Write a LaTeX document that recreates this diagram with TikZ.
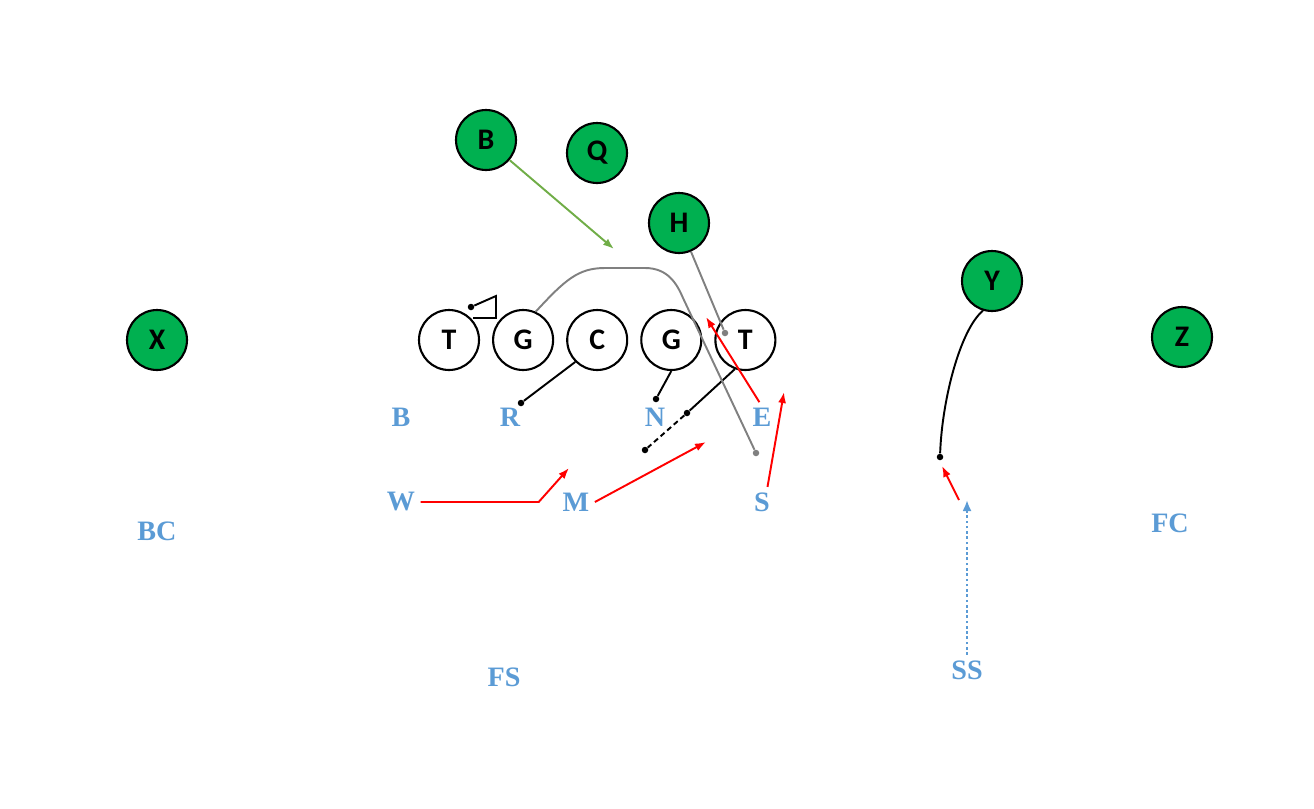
\documentclass[tikz,border=0pt]{standalone}
\usepackage{fontspec}
\setmainfont{Liberation Serif}
\newfontfamily\playerfont{Carlito}
\usepackage{xcolor}
\usetikzlibrary{arrows.meta, positioning}

\definecolor{offgreen}{HTML}{00B050}
\definecolor{routegreen}{HTML}{70AD47}
\definecolor{defblue}{HTML}{5B9BD5}

\begin{document}
\begin{tikzpicture}[
  x=0.02cm, y=-0.02cm,
  skill/.style={circle, draw, line width=1.2pt, fill=offgreen, minimum size=1.2cm, inner sep=0pt, font=\playerfont\bfseries\fontsize{17}{20}\selectfont},
  lineman/.style={circle, draw, line width=1.2pt, fill=white, minimum size=1.2cm, inner sep=0pt, font=\playerfont\bfseries\fontsize{17}{20}\selectfont},
  defender/.style={text=defblue, inner sep=3pt, font=\bfseries\fontsize{16}{19}\selectfont},
  dot/.style={circle, fill, inner sep=0pt, minimum size=0.13cm},
  rush/.style={red, line width=1.1pt, -{Latex[length=2.2mm,width=1.6mm]}},
  pull/.style={gray, line width=1.1pt},
  blk/.style={line width=1.1pt}
]
\useasboundingbox (0,0) rectangle (1314,808);

% offense
\node[skill] (x) at (157,340) {X};
\node[skill] (b) at (486,140) {B};
\node[skill] (q) at (597,153) {Q};
\node[skill] (h) at (679,223) {H};
\node[skill] (y) at (992,281) {Y};
\node[skill] (z) at (1182,337) {Z};

\node[lineman] (lt) at (449,340) {T};
\node[lineman, right=0.24cm of lt] (lg) {G};
\node[lineman, right=0.24cm of lg] (c) {C};
\node[lineman, right=0.24cm of c] (rg) {G};
\node[lineman, right=0.24cm of rg] (rt) {T};

% defense
\node[defender] (bk) at (401,417) {B};
\node[defender] (r) at (510,417) {R};
\node[defender] (n) at (655,417) {N};
\node[defender] (e) at (762,417) {E};
\node[defender] (w) at (401,502) {W};
\node[defender] (m) at (576,502) {M};
\node[defender] (s) at (762,502) {S};
\node[defender] (bc) at (157,531) {BC};
\node[defender] (fc) at (1170,523) {FC};
\node[defender] (fs) at (504,677) {FS};
\node[defender] (ss) at (967,670) {SS};

% route ends
\node[dot] (ltdot) at (471,307) {};
\node[dot] (rdot) at (521,403) {};
\node[dot] (ndot) at (656,399) {};
\node[dot] (tdot) at (687,413) {};
\node[dot] (mdot) at (645,450) {};
\node[dot] (ydot) at (940,457) {};
\node[dot, fill=gray] (gdot) at (756,453) {};
\node[dot, fill=gray] (hdot) at (725,333) {};

\coordinate (btip) at (614,249);
\coordinate (etip) at (706,317);
\coordinate (stip) at (784,392);
\coordinate (mtip) at (706,442);
\coordinate (wtip) at (569,468);
\coordinate (yr0) at (959,500);
\coordinate (yrtip) at (942,466);
\coordinate (sstip) at (967,500);

% blocks
\draw[blk] (ltdot) -- (496,296) -- (496,318) -- (473,318);
\draw[blk] (c.-135) -- (rdot);
\draw[blk] (rg.south) -- (ndot);
\draw[blk] (rt.-110) -- (tdot);
\draw[blk, densely dashed] (tdot) -- (mdot);

% pulls and backs
\draw[pull] (lg.66) .. controls (565,280) and (578,268) .. (605,268) -- (645,268)
  .. controls (668,268) and (677,284) .. (683,298) -- (gdot);
\draw[pull] (h) -- (hdot);
\draw[routegreen, line width=1.1pt, -{Latex[length=2.2mm,width=1.6mm]}] (b) -- (btip);
\draw[blk] (y.-107) .. controls (960,330) and (942,400) .. (ydot);

% rushers
\draw[rush] (e.100) -- (etip);
\draw[rush] (s.70) -- (stip);
\draw[rush] (m.east) -- (mtip);
\draw[rush] (w.east) -- ++(118,0) -- (wtip);
\draw[rush] (yr0) -- (yrtip);
\draw[defblue, line width=1.4pt, dash pattern=on 1.5pt off 1.5pt, -{Latex[length=2.2mm,width=1.8mm]}] (ss.north) -- (sstip);
\end{tikzpicture}
\end{document}
